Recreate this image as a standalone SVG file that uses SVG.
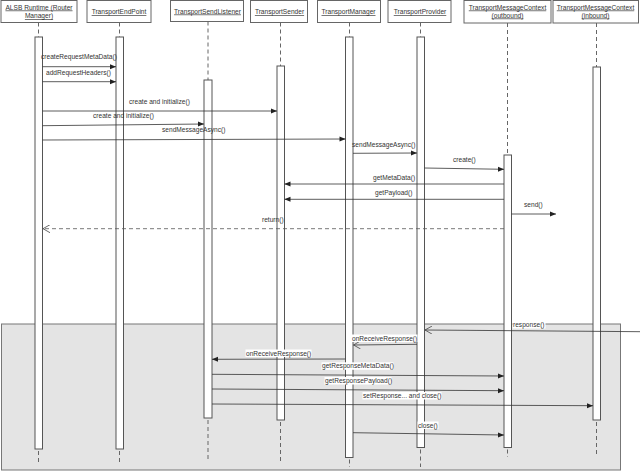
<svg xmlns="http://www.w3.org/2000/svg" width="640" height="472" viewBox="0 0 640 472">
<style>
text{font-family:"Liberation Sans",Arial,sans-serif;font-size:6.6px;fill:#333}
.hd{text-anchor:middle;text-decoration:underline}
.box{fill:#fff;stroke:#666;stroke-width:1}
.act{fill:#fff;stroke:#555;stroke-width:1}
.life{stroke:#666;stroke-width:1;stroke-dasharray:4,3;fill:none}
.msg{stroke:#333;stroke-width:0.8;fill:none}
.ret{stroke:#555;stroke-width:0.8;fill:none;stroke-dasharray:4,3}
.lbg{fill:#fff}
</style>
<defs>
<marker id="fa" viewBox="0 0 6 6" refX="6" refY="3" markerWidth="6" markerHeight="6" markerUnits="userSpaceOnUse" orient="auto"><path d="M0,0.5 L6,3 L0,5.5 z" fill="#222"/></marker>
<marker id="oa" viewBox="0 0 7 8" refX="7" refY="4" markerWidth="7" markerHeight="8" markerUnits="userSpaceOnUse" orient="auto"><path d="M0,0 L7,4 L0,8" fill="none" stroke="#444" stroke-width="0.8"/></marker>
</defs>
<rect width="640" height="472" fill="#fff"/>
<rect id="region" x="1.5" y="324" width="619" height="146" fill="#e4e4e4" stroke="#777" stroke-width="1"/>

<g id="alsb">
<rect class="box" x="1" y="0.5" width="76" height="22"/>
<text class="hd" x="39" y="9.5">ALSB Runtime (Router</text>
<text class="hd" x="39" y="18">Manager)</text>
<line class="life" x1="38.5" y1="22.5" x2="38.5" y2="37"/>
<rect class="act" x="35" y="37" width="7.5" height="412"/>
<line class="life" x1="38.5" y1="451" x2="38.5" y2="465"/>
</g>
<g id="endpoint">
<rect class="box" x="87" y="0.5" width="64" height="22"/>
<text class="hd" x="119" y="14">TransportEndPoint</text>
<line class="life" x1="119.5" y1="22.5" x2="119.5" y2="37"/>
<rect class="act" x="116" y="37" width="7.5" height="412"/>
<line class="life" x1="119.5" y1="451" x2="119.5" y2="465"/>
</g>
<g id="sendlistener">
<rect class="box" x="170.5" y="0.5" width="73" height="21"/>
<text class="hd" x="207.5" y="13.5">TransportSendListener</text>
<line class="life" x1="208" y1="21.5" x2="208" y2="80"/>
<rect class="act" x="204" y="80" width="8" height="338"/>
<line class="life" x1="208" y1="420" x2="208" y2="460"/>
</g>
<g id="sender">
<rect class="box" x="250.5" y="0.5" width="57" height="22"/>
<text class="hd" x="279.5" y="14">TransportSender</text>
<line class="life" x1="280.5" y1="22.5" x2="280.5" y2="66"/>
<rect class="act" x="277" y="66" width="7.5" height="354"/>
<line class="life" x1="280.5" y1="422" x2="280.5" y2="463"/>
</g>
<g id="manager">
<rect class="box" x="317.5" y="0.5" width="63" height="22"/>
<text class="hd" x="348.5" y="14">TransportManager</text>
<line class="life" x1="349.5" y1="22.5" x2="349.5" y2="37"/>
<rect class="act" x="345.5" y="37" width="7.5" height="420.5"/>
<line class="life" x1="349.5" y1="459.5" x2="349.5" y2="467"/>
</g>
<g id="provider">
<rect class="box" x="388" y="0.5" width="63" height="22"/>
<text class="hd" x="420" y="14">TransportProvider</text>
<line class="life" x1="420.5" y1="22.5" x2="420.5" y2="37"/>
<rect class="act" x="417" y="37" width="7.5" height="410.5"/>
<line class="life" x1="420.5" y1="449.5" x2="420.5" y2="467"/>
</g>
<g id="ctx-outbound">
<rect class="box" x="464" y="0.5" width="87" height="22.5"/>
<text class="hd" x="507.5" y="9.5">TransportMessageContext</text>
<text class="hd" x="507.5" y="17.5">(outbound)</text>
<line class="life" x1="507.5" y1="23" x2="507.5" y2="155"/>
<rect class="act" x="504" y="155" width="7.5" height="292.5"/>
<line class="life" x1="507.5" y1="449.5" x2="507.5" y2="457"/>
</g>
<g id="ctx-inbound">
<rect class="box" x="553" y="0.5" width="85.5" height="22.5"/>
<text class="hd" x="595.5" y="9.5">TransportMessageContext</text>
<text class="hd" x="595.5" y="17.5">(inbound)</text>
<line class="life" x1="596.5" y1="23" x2="596.5" y2="67"/>
<rect class="act" x="593" y="67" width="7.5" height="353"/>
<line class="life" x1="596.5" y1="422" x2="596.5" y2="457"/>
</g>

<g id="connectors">
<line class="msg" x1="42.5" y1="66.7" x2="116" y2="66.7" marker-end="url(#fa)"/>
<line class="msg" x1="42.5" y1="81.7" x2="116" y2="81.7" marker-end="url(#fa)"/>
<line class="msg" x1="42.5" y1="111" x2="277" y2="111" marker-end="url(#fa)"/>
<line class="msg" x1="42.5" y1="125.7" x2="204" y2="124" marker-end="url(#fa)"/>
<line class="msg" x1="42.5" y1="140" x2="345.5" y2="139" marker-end="url(#fa)"/>
<line class="msg" x1="353" y1="153.3" x2="417" y2="153" marker-end="url(#fa)"/>
<line class="msg" x1="424.5" y1="168" x2="504" y2="169.3" marker-end="url(#fa)"/>
<line class="msg" x1="504" y1="184" x2="284.5" y2="184" marker-end="url(#fa)"/>
<line class="msg" x1="504" y1="199.3" x2="284.5" y2="199.3" marker-end="url(#fa)"/>
<line class="msg" x1="511.5" y1="214" x2="556" y2="214" marker-end="url(#fa)"/>
<line class="ret" x1="504" y1="228.7" x2="43" y2="228.7" marker-end="url(#oa)"/>
<line class="msg" x1="640" y1="331.7" x2="425" y2="330" marker-end="url(#oa)"/>
<line class="msg" x1="417" y1="344.3" x2="353.5" y2="345" marker-end="url(#oa)"/>
<line class="msg" x1="345.5" y1="359" x2="212" y2="359.3" marker-end="url(#fa)"/>
<line class="msg" x1="212" y1="374.3" x2="504" y2="376" marker-end="url(#fa)"/>
<line class="msg" x1="212" y1="389" x2="504" y2="390.7" marker-end="url(#fa)"/>
<line class="msg" x1="212" y1="404" x2="593" y2="405.7" marker-end="url(#fa)"/>
<line class="msg" x1="353" y1="432.7" x2="504" y2="435" marker-end="url(#fa)"/>
</g>

<g id="labels">
<text x="41" y="59">createRequestMetaData()</text>
<text x="46" y="74.5">addRequestHeaders()</text>
<text x="129" y="104">create and initialize()</text>
<text x="93" y="118">create and initialize()</text>
<text x="162" y="132.3">sendMessageAsync()</text>
<text x="352" y="147">sendMessageAsync()</text>
<text x="453" y="162.3">create()</text>
<text x="373" y="180.3">getMetaData()</text>
<text x="375" y="195">getPayload()</text>
<text x="524" y="207.3">send()</text>
<text x="262" y="222.3">return()</text>
<rect class="lbg" x="512.5" y="321" width="33" height="7.5"/>
<text x="513" y="327.3">response()</text>
<rect class="lbg" x="351.5" y="334.5" width="66" height="7.5"/>
<text x="352" y="340.6">onReceiveResponse()</text>
<rect class="lbg" x="245.5" y="349.5" width="66" height="7.5"/>
<text x="246" y="355.6">onReceiveResponse()</text>
<rect class="lbg" x="321.5" y="362.3" width="72" height="7.5"/>
<text x="322" y="368.3">getResponseMetaData()</text>
<rect class="lbg" x="324.5" y="377" width="67" height="7.5"/>
<text x="325" y="383">getResponsePayload()</text>
<rect class="lbg" x="362.5" y="392" width="79" height="7.5"/>
<text x="363" y="398">setResponse... and close()</text>
<rect class="lbg" x="417.5" y="421.5" width="21" height="7.5"/>
<text x="418" y="427.5">close()</text>
</g>
</svg>
